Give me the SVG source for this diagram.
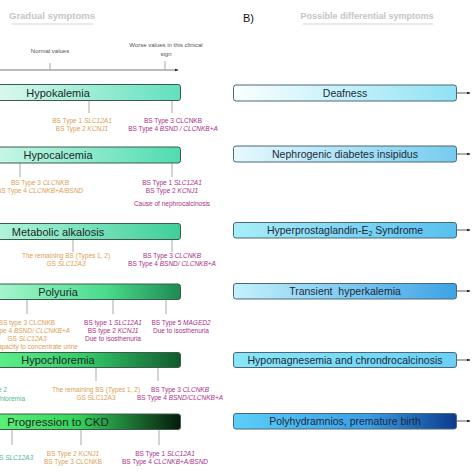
<svg xmlns="http://www.w3.org/2000/svg" width="474" height="474" viewBox="0 0 474 474">
<style>
text{font-family:"Liberation Sans",Arial,sans-serif}
.title{font-size:9.5px;font-weight:bold;fill:#c3c6ca}
.ul{stroke:#cfd3dc;stroke-width:1.2}
.small{font-size:6px;fill:#555;text-anchor:middle}
.box{stroke:#3d5a4c;stroke-width:1}
.bbox{stroke:#4a6878;stroke-width:1}
.bt{font-size:11px;fill:#1d2a2a;text-anchor:middle}
.rt{font-size:10.5px;fill:#1d2a3a;text-anchor:middle}
.tick{stroke:#a9a9a9;stroke-width:1}
.o{font-size:6.5px;fill:#dca050;text-anchor:middle}
.p{font-size:6.5px;fill:#a8308a;text-anchor:middle}
.g{font-size:6.5px;fill:#4fb890;text-anchor:middle}
.con{stroke:#333;stroke-width:0.8;fill:none}
</style>
<defs>
<marker id="ah" viewBox="0 0 6 6" refX="5" refY="3" markerWidth="5" markerHeight="5" orient="auto"><path d="M0,0.8 L6,3 L0,5.2 Z" fill="#222"/></marker>
<linearGradient id="l1" x1="0" x2="1" y1="0" y2="0"><stop offset="0" stop-color="#dcf9ef"/><stop offset="1" stop-color="#62e0bd"/></linearGradient>
<linearGradient id="l2" x1="0" x2="1" y1="0" y2="0"><stop offset="0" stop-color="#c8f7e8"/><stop offset="1" stop-color="#4fdcb0"/></linearGradient>
<linearGradient id="l3" x1="0" x2="1" y1="0" y2="0"><stop offset="0" stop-color="#b2f5dc"/><stop offset="1" stop-color="#3fcf9a"/></linearGradient>
<linearGradient id="l4" x1="0" x2="1" y1="0" y2="0"><stop offset="0" stop-color="#a8f6d0"/><stop offset="0.6" stop-color="#48dc8c"/><stop offset="1" stop-color="#1f8a52"/></linearGradient>
<linearGradient id="l5" x1="0" x2="1" y1="0" y2="0"><stop offset="0" stop-color="#5ff08a"/><stop offset="0.5" stop-color="#34c868"/><stop offset="1" stop-color="#0f5a2c"/></linearGradient>
<linearGradient id="l6" x1="0" x2="1" y1="0" y2="0"><stop offset="0" stop-color="#5cf27a"/><stop offset="0.45" stop-color="#34d25a"/><stop offset="1" stop-color="#061a0c"/></linearGradient>
<linearGradient id="r1" x1="0" x2="1" y1="0" y2="0"><stop offset="0" stop-color="#fbffff"/><stop offset="1" stop-color="#8fe2f4"/></linearGradient>
<linearGradient id="r2" x1="0" x2="1" y1="0" y2="0"><stop offset="0" stop-color="#e6f9fd"/><stop offset="1" stop-color="#76ccee"/></linearGradient>
<linearGradient id="r3" x1="0" x2="1" y1="0" y2="0"><stop offset="0" stop-color="#a8eef8"/><stop offset="1" stop-color="#58c0ee"/></linearGradient>
<linearGradient id="r4" x1="0" x2="1" y1="0" y2="0"><stop offset="0" stop-color="#c4f2fb"/><stop offset="1" stop-color="#3ea2e6"/></linearGradient>
<linearGradient id="r5" x1="0" x2="1" y1="0" y2="0"><stop offset="0" stop-color="#8ae6f8"/><stop offset="1" stop-color="#6ad0f4"/></linearGradient>
<linearGradient id="r6" x1="0" x2="1" y1="0" y2="0"><stop offset="0" stop-color="#5acff8"/><stop offset="0.6" stop-color="#3c9ee6"/><stop offset="1" stop-color="#0c3a8c"/></linearGradient>
</defs>

<g id="header-left">
<text class="title" x="9" y="19">Gradual symptoms</text>
<line class="ul" x1="12" y1="24" x2="93" y2="24"/>
<text class="small" x="50" y="53">Normal values</text>
<text class="small" x="166" y="47">Worse values in this clinical</text>
<text class="small" x="166" y="56">sign</text>
</g>
<g id="header-right">
<text x="243" y="22" style="font-size:11px;fill:#111">B)</text>
<text class="title" x="367" y="19" style="text-anchor:middle;font-size:9px">Possible differential symptoms</text>
<line class="ul" x1="303" y1="24" x2="433" y2="24"/>
</g>

<g id="connectors">
<line class="con" x1="0" y1="70" x2="178" y2="70" marker-end="url(#ah)" style="stroke:#555"/>
<line class="tick" x1="50" y1="63" x2="50" y2="70"/>
<line class="tick" x1="165" y1="61" x2="165" y2="70"/>
<line class="tick" x1="89" y1="100" x2="89" y2="113"/>
<line class="tick" x1="172" y1="100" x2="172" y2="113"/>
<line class="tick" x1="20" y1="163" x2="20" y2="177"/>
<line class="tick" x1="172" y1="163" x2="172" y2="177"/>
<line class="tick" x1="73" y1="240" x2="73" y2="252"/>
<line class="tick" x1="172" y1="240" x2="172" y2="252"/>
<line class="tick" x1="27" y1="299" x2="27" y2="314"/>
<line class="tick" x1="113" y1="299" x2="113" y2="314"/>
<line class="tick" x1="166" y1="299" x2="166" y2="314"/>
<line class="tick" x1="96" y1="367" x2="96" y2="381"/>
<line class="tick" x1="158" y1="367" x2="158" y2="381"/>
<line class="tick" x1="12" y1="429" x2="12" y2="445"/>
<line class="tick" x1="81" y1="429" x2="81" y2="445"/>
<line class="tick" x1="159" y1="429" x2="159" y2="445"/>
<line class="con" x1="457" y1="93" x2="470" y2="93" marker-end="url(#ah)"/>
<line class="con" x1="457" y1="154" x2="470" y2="154" marker-end="url(#ah)"/>
<line class="con" x1="457" y1="230" x2="470" y2="230" marker-end="url(#ah)"/>
<line class="con" x1="457" y1="291" x2="470" y2="291" marker-end="url(#ah)"/>
<line class="con" x1="457" y1="360" x2="470" y2="360" marker-end="url(#ah)"/>
<line class="con" x1="457" y1="421" x2="470" y2="421" marker-end="url(#ah)"/>
</g>

<g id="hypokalemia">
<rect class="box" x="-5" y="84.5" width="185.5" height="16" rx="2.5" fill="url(#l1)"/>
<text class="bt" x="58" y="96.5">Hypokalemia</text>
<text class="o" x="82" y="123">BS Type 1 <tspan font-style="italic">SLC12A1</tspan></text>
<text class="o" x="82" y="131">BS Type 2 <tspan font-style="italic">KCNJ1</tspan></text>
<text class="p" x="173" y="123">BS Type 3 CLCNKB</text>
<text class="p" x="173" y="131">BS Type 4 <tspan font-style="italic">BSND / CLCNKB+A</tspan></text>
</g>

<g id="hypocalcemia">
<rect class="box" x="-5" y="147" width="185.5" height="16" rx="2.5" fill="url(#l2)"/>
<text class="bt" x="58" y="159">Hypocalcemia</text>
<text class="o" x="40" y="185">BS Type 3 <tspan font-style="italic">CLCNKB</tspan></text>
<text class="o" x="40" y="193">BS Type  4 <tspan font-style="italic">CLCNKB+A/BSND</tspan></text>
<text class="p" x="172" y="185">BS Type 1 <tspan font-style="italic">SLC12A1</tspan></text>
<text class="p" x="172" y="193">BS Type 2 <tspan font-style="italic">KCNJ1</tspan></text>
<text class="p" x="172" y="206">Cause of nephrocalcinosis</text>
</g>

<g id="metabolic-alkalosis">
<rect class="box" x="-5" y="223.5" width="185.5" height="16" rx="2.5" fill="url(#l3)"/>
<text class="bt" x="58" y="235.5">Metabolic alkalosis</text>
<text class="o" x="66" y="258">The remaining BS (Types 1, 2)</text>
<text class="o" x="66" y="266">GS <tspan font-style="italic">SLC12A3</tspan></text>
<text class="p" x="172" y="258">BS Type 3 <tspan font-style="italic">CLCNKB</tspan></text>
<text class="p" x="172" y="266">BS Type 4 <tspan font-style="italic">BSND/ CLCNKB+A</tspan></text>
</g>

<g id="polyuria">
<rect class="box" x="-5" y="284" width="185.5" height="15.5" rx="2.5" fill="url(#l4)"/>
<text class="bt" x="58" y="296">Polyuria</text>
<text class="o" x="27" y="325">BS type 3 CLCNKB</text>
<text class="o" x="27" y="333">BS type 4 <tspan font-style="italic">BSND/ CLCNKB+A</tspan></text>
<text class="o" x="27" y="341">GS <tspan font-style="italic">SLC12A3</tspan></text>
<text class="o" x="78" y="349" style="text-anchor:end">Capacity to concentrate urine</text>
<text class="p" x="113" y="325">BS type 1 <tspan font-style="italic">SLC12A1</tspan></text>
<text class="p" x="113" y="333">BS type 2 <tspan font-style="italic">KCNJ1</tspan></text>
<text class="p" x="113" y="341">Due to isosthenuria</text>
<text class="p" x="181" y="325">BS Type 5 <tspan font-style="italic">MAGED2</tspan></text>
<text class="p" x="181" y="333">Due to isosthenuria</text>
</g>

<g id="hypochloremia">
<rect class="box" x="-5" y="352.5" width="185.5" height="15" rx="2.5" fill="url(#l5)"/>
<text class="bt" x="58" y="364">Hypochloremia</text>
<text class="g" x="7" y="392" style="text-anchor:end">BS Type 2</text>
<text class="g" x="25" y="401" style="text-anchor:end">Hypochloremia</text>
<text class="o" x="96" y="392">The remaining BS (Types 1, 2)</text>
<text class="o" x="96" y="400">GS SLC12A3</text>
<text class="p" x="180" y="392">BS Type 3 <tspan font-style="italic">CLCNKB</tspan></text>
<text class="p" x="180" y="400">BS Type 4 <tspan font-style="italic">BSND/CLCNKB+A</tspan></text>
</g>

<g id="progression-ckd">
<rect class="box" x="-5" y="414" width="185.5" height="15.5" rx="2.5" fill="url(#l6)"/>
<text class="bt" x="58" y="426" style="font-size:11.5px">Progression to CKD</text>
<text class="g" x="33" y="460" style="text-anchor:end">GS <tspan font-style="italic">SLC12A3</tspan></text>
<text class="o" x="73" y="456">BS Type 2 <tspan font-style="italic">KCNJ1</tspan></text>
<text class="o" x="73" y="464">BS Type 3 CLCNKB</text>
<text class="p" x="165" y="456">BS Type 1 <tspan font-style="italic">SLC12A1</tspan></text>
<text class="p" x="165" y="464">BS Type 4 <tspan font-style="italic">CLCNKB+A/BSND</tspan></text>
</g>

<g id="deafness">
<rect class="bbox" x="233.5" y="85" width="223" height="16" rx="2.5" fill="url(#r1)"/>
<text class="rt" x="345" y="97">Deafness</text>
</g>
<g id="nephrogenic-di">
<rect class="bbox" x="233.5" y="146" width="223" height="16" rx="2.5" fill="url(#r2)"/>
<text class="rt" x="345" y="158">Nephrogenic diabetes insipidus</text>
</g>
<g id="hyperprostaglandin">
<rect class="bbox" x="233.5" y="222.5" width="223" height="15.5" rx="2.5" fill="url(#r3)"/>
<text class="rt" x="345" y="234">Hyperprostaglandin-E<tspan font-size="7" dy="2">2</tspan><tspan dy="-2"> Syndrome</tspan></text>
</g>
<g id="transient-hyperkalemia">
<rect class="bbox" x="233.5" y="283.5" width="223" height="15.5" rx="2.5" fill="url(#r4)"/>
<text class="rt" x="345" y="295" xml:space="preserve">Transient  hyperkalemia</text>
</g>
<g id="hypomagnesemia">
<rect class="bbox" x="233.5" y="352.5" width="223" height="15" rx="2.5" fill="url(#r5)"/>
<text class="rt" x="345" y="364">Hypomagnesemia and chrondrocalcinosis</text>
</g>
<g id="polyhydramnios">
<rect class="bbox" x="233.5" y="413.5" width="223" height="15.5" rx="2.5" fill="url(#r6)"/>
<text class="rt" x="345" y="425">Polyhydramnios, premature birth</text>
</g>
</svg>
